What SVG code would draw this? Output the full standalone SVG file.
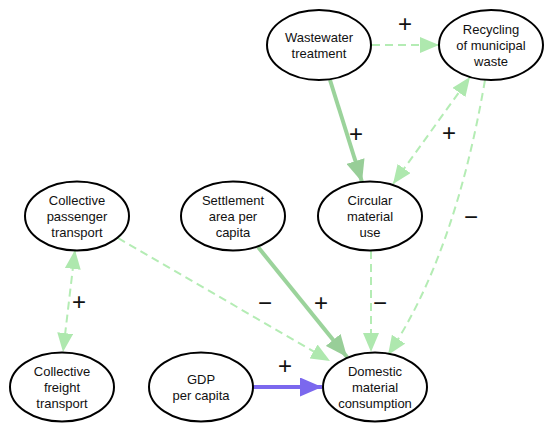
<svg xmlns="http://www.w3.org/2000/svg" width="550" height="428" viewBox="0 0 550 428">
<style>
.node ellipse{fill:#fff;stroke:#000;stroke-width:2}
.node text{font-family:"Liberation Sans",Arial,sans-serif;font-size:13px;fill:#111;text-anchor:middle;dominant-baseline:central}
.lbl{font-family:"Liberation Sans",Arial,sans-serif;font-size:24px;fill:#111;text-anchor:middle;dominant-baseline:central}
.dash{fill:none;stroke:#b4ecb4;stroke-width:2;stroke-dasharray:8 5}
.solid{fill:none;stroke:#9bd39b;stroke-width:4}
.purple{fill:none;stroke:#7b68ee;stroke-width:4}
</style>
<defs>
<marker id="ad" markerUnits="userSpaceOnUse" markerWidth="20" markerHeight="16" refX="19" refY="8" orient="auto"><path d="M0,0 L19,8 L0,16 z" fill="#aee8ae"/></marker>
<marker id="ads" markerUnits="userSpaceOnUse" markerWidth="20" markerHeight="16" refX="19" refY="8" orient="auto-start-reverse"><path d="M0,0 L19,8 L0,16 z" fill="#aee8ae"/></marker>
<marker id="ag" markerUnits="userSpaceOnUse" markerWidth="23" markerHeight="19" refX="22" refY="9.5" orient="auto"><path d="M0,0 L22,9.5 L0,19 z" fill="#98ce98"/></marker>
<marker id="ap" markerUnits="userSpaceOnUse" markerWidth="23" markerHeight="19" refX="22" refY="9.5" orient="auto"><path d="M0,0 L22,9.5 L0,19 z" fill="#7b68ee"/></marker>
</defs>
<g id="connectors">
<path class="dash" d="M372,45 L439,45" marker-end="url(#ad)"/>
<path class="solid" d="M330,80 L362,182" marker-end="url(#ag)"/>
<path class="dash" d="M393,184 L470,77" marker-start="url(#ads)" marker-end="url(#ads)"/>
<path class="dash" d="M485,80 Q455,255 388,355" marker-end="url(#ad)"/>
<path class="dash" d="M371,251 L371,352" marker-end="url(#ad)"/>
<path class="solid" d="M258,247 L347,357" stroke-width="3.5" marker-end="url(#ag)"/>
<path class="dash" d="M118,238 L330,361" marker-end="url(#ad)"/>
<path class="dash" d="M75,250 L63,352" marker-start="url(#ads)" marker-end="url(#ads)"/>
<path class="purple" d="M253,387 L322,387" marker-end="url(#ap)"/>
<text class="lbl" x="405" y="23">+</text>
<text class="lbl" x="356" y="133">+</text>
<text class="lbl" x="449" y="132">+</text>
<text class="lbl" x="471" y="216">−</text>
<text class="lbl" x="380" y="302">−</text>
<text class="lbl" x="321" y="302">+</text>
<text class="lbl" x="265" y="302">−</text>
<text class="lbl" x="79" y="301">+</text>
<text class="lbl" x="285" y="365">+</text>
</g>
<g id="wastewater" class="node"><ellipse cx="319" cy="45" rx="52" ry="35"/><text x="319" y="37">Wastewater</text><text x="319" y="53">treatment</text></g>
<g id="recycling" class="node"><ellipse cx="491" cy="45" rx="52" ry="35"/><text x="491" y="29">Recycling</text><text x="491" y="45">of municipal</text><text x="491" y="61">waste</text></g>
<g id="circular" class="node"><ellipse cx="370" cy="216" rx="52" ry="34.5"/><text x="370" y="200">Circular</text><text x="370" y="216">material</text><text x="370" y="232">use</text></g>
<g id="passenger" class="node"><ellipse cx="77" cy="216" rx="52" ry="34.5"/><text x="77" y="200">Collective</text><text x="77" y="216">passenger</text><text x="77" y="232">transport</text></g>
<g id="settlement" class="node"><ellipse cx="233" cy="216" rx="52" ry="34.5"/><text x="233" y="200">Settlement</text><text x="233" y="216">area per</text><text x="233" y="232">capita</text></g>
<g id="freight" class="node"><ellipse cx="62" cy="387" rx="52" ry="34.5"/><text x="62" y="371">Collective</text><text x="62" y="387">freight</text><text x="62" y="403">transport</text></g>
<g id="gdp" class="node"><ellipse cx="201" cy="387" rx="52" ry="34.5"/><text x="201" y="379">GDP</text><text x="201" y="395">per capita</text></g>
<g id="domestic" class="node"><ellipse cx="375" cy="387" rx="52" ry="34.5"/><text x="375" y="371">Domestic</text><text x="375" y="387">material</text><text x="375" y="403">consumption</text></g>
</svg>
